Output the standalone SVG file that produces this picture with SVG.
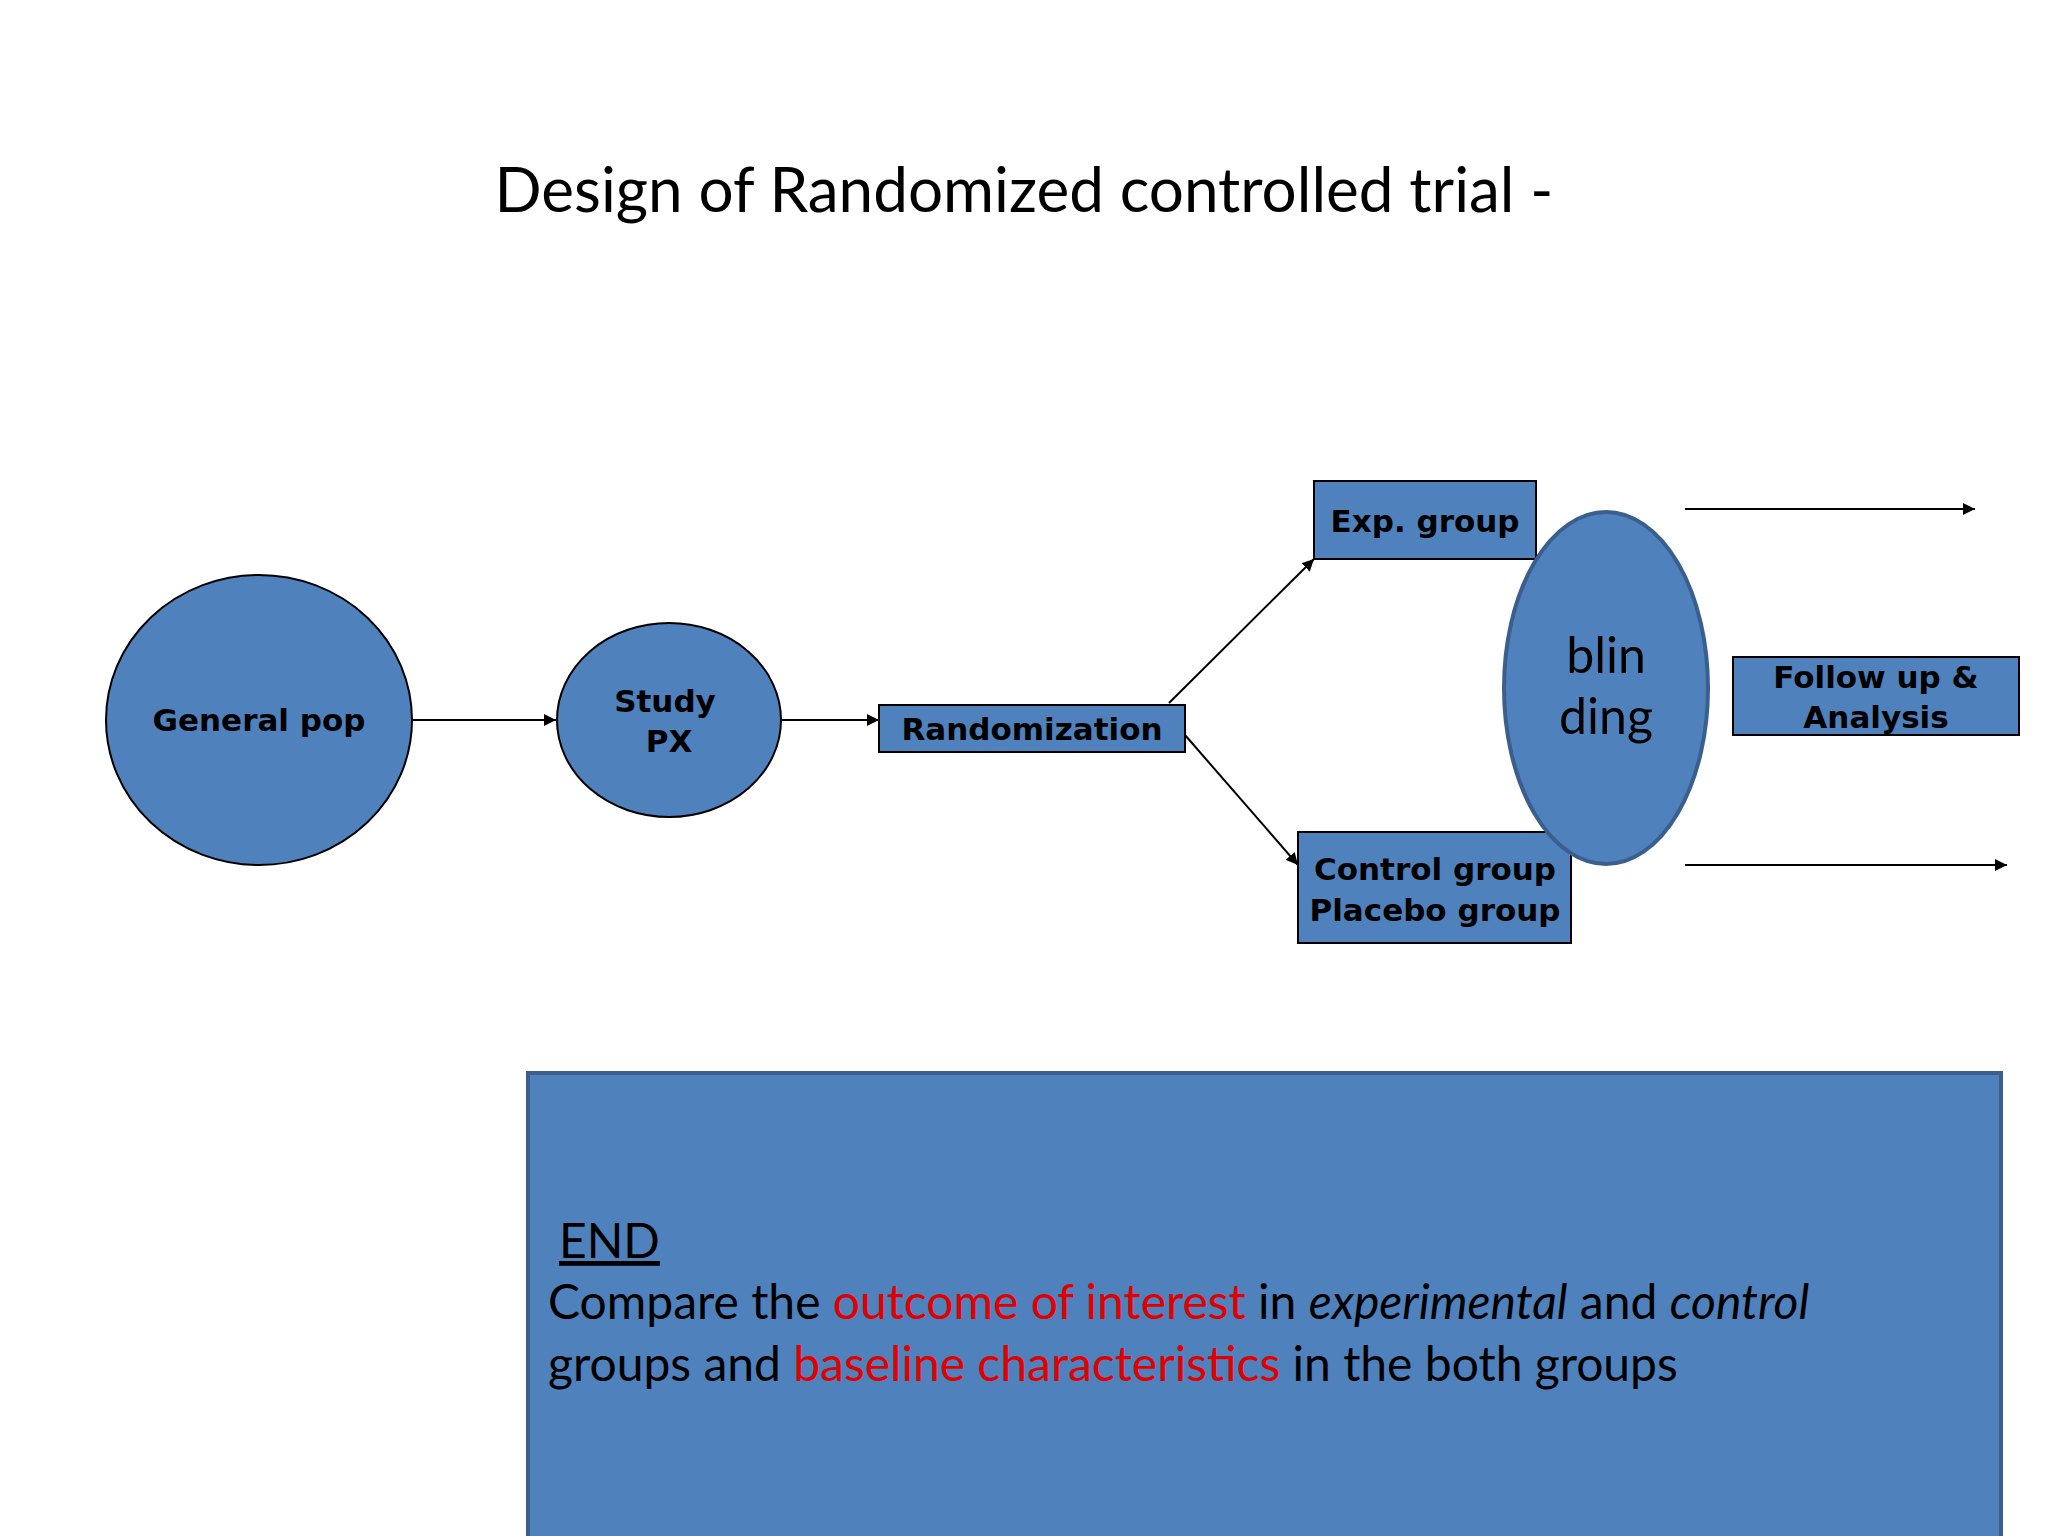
<svg xmlns="http://www.w3.org/2000/svg" width="2048" height="1536" viewBox="0 0 2048 1536">
<defs>
<marker id="ah" viewBox="0 0 10 10" refX="10" refY="5" markerWidth="6" markerHeight="6" orient="auto"><path d="M0,0 L10,5 L0,10 z" fill="#000"/></marker>
<style>
.n{fill:#4f81bd;stroke:#000;stroke-width:2}
.b{fill:#4f81bd;stroke:#3a5f8f;stroke-width:4}
.t{font-family:"DejaVu Sans",Verdana,sans-serif;font-weight:bold;font-size:31px;fill:#000;text-anchor:middle}
.c{font-family:Lato,"Open Sans",sans-serif;fill:#000}
.r{fill:#e00000}
line{stroke:#000;stroke-width:2;marker-end:url(#ah)}
</style>
</defs>
<rect width="2048" height="1536" fill="#fff"/>
<text class="c" x="1024" y="212" font-size="62" text-anchor="middle">Design of Randomized controlled trial -</text>
<g id="connectors">
<line x1="411" y1="720" x2="556" y2="720"/>
<line x1="782" y1="720" x2="879" y2="720"/>
<line x1="1169" y1="703" x2="1314" y2="559"/>
<line x1="1185" y1="735" x2="1298" y2="865"/>
<line x1="1685" y1="509" x2="1975" y2="509"/>
<line x1="1685" y1="865" x2="2007" y2="865"/>
</g>
<g id="general"><ellipse class="n" cx="259" cy="720" rx="153" ry="145"/><text class="t" x="259" y="731">General pop</text></g>
<g id="study"><ellipse class="n" cx="669" cy="720" rx="112" ry="97"/><text class="t" x="665" y="712">Study</text><text class="t" x="669" y="752">PX</text></g>
<g id="rand"><rect class="n" x="879" y="705" width="306" height="47"/><text class="t" x="1032" y="740">Randomization</text></g>
<g id="exp"><rect class="n" x="1314" y="481" width="222" height="78"/><text class="t" x="1425" y="532">Exp. group</text></g>
<g id="control"><rect class="n" x="1298" y="832" width="273" height="111"/><text class="t" x="1435" y="880">Control group</text><text class="t" x="1435" y="921">Placebo group</text></g>
<g id="blinding"><ellipse class="b" cx="1606" cy="688" rx="102" ry="176"/><text class="c" x="1606" y="673" font-size="50" text-anchor="middle">blin</text><text class="c" x="1606" y="734" font-size="50" text-anchor="middle">ding</text></g>
<g id="follow"><rect class="n" x="1733" y="657" width="286" height="78"/><text class="t" x="1876" y="688">Follow up &amp;</text><text class="t" x="1876" y="728">Analysis</text></g>
<g id="endbox"><rect class="b" x="528" y="1073" width="1473" height="470"/>
<text class="c" x="559" y="1258" font-size="48" text-decoration="underline">END</text>
<text class="c" x="548" y="1319" font-size="48">Compare the  <tspan class="r">outcome of interest</tspan> in <tspan font-style="italic">experimental</tspan> and <tspan font-style="italic">control</tspan></text>
<text class="c" x="548" y="1381" font-size="48">groups and  <tspan class="r">baseline characteristics</tspan> in  the both groups</text>
</g>
</svg>
